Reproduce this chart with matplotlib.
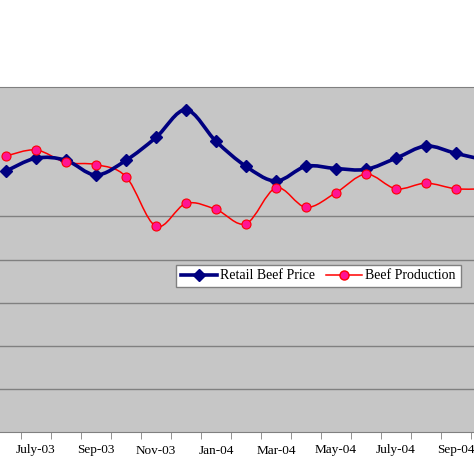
import numpy as np
import matplotlib.pyplot as plt
from matplotlib.path import Path
from matplotlib.patches import PathPatch

months = ["Jun-03", "July-03", "Aug-03", "Sep-03", "Oct-03", "Nov-03", "Dec-03", "Jan-04",
          "Feb-04", "Mar-04", "Apr-04", "May-04", "Jun-04", "July-04", "Aug-04", "Sep-04", "Oct-04"]
retail_price = [6.05, 6.35, 6.30, 5.96, 6.30, 6.83, 7.47, 6.74, 6.16, 5.82, 6.16, 6.11, 6.09,
                6.35, 6.63, 6.46, 6.30]
beef_production = [6.40, 6.54, 6.25, 6.20, 5.92, 4.77, 5.30, 5.16, 4.83, 5.66, 5.21, 5.55, 5.98,
                   5.64, 5.77, 5.64, 5.64]


def smooth_path(x, y, t=1/6):
    # catmull-rom style bezier through the points, like Excel's smoothed line
    p = np.column_stack([x, y])
    verts = [p[0]]
    codes = [Path.MOVETO]
    for i in range(len(p) - 1):
        p0 = p[i - 1] if i > 0 else p[i]
        p3 = p[i + 2] if i + 2 < len(p) else p[i + 1]
        c1 = p[i] + (p[i + 1] - p0) * t
        c2 = p[i + 1] - (p3 - p[i]) * t
        verts += [c1, c2, p[i + 1]]
        codes += [Path.CURVE4] * 3
    return Path(verts, codes)


fig = plt.figure(figsize=(4.74, 4.74), dpi=100)
ax = fig.add_axes([0, 42 / 474, 1, 345 / 474])
ax.set_facecolor("#c6c6c6")
x = np.arange(len(months))

ax.add_patch(PathPatch(smooth_path(x, retail_price), fill=False, ec="#000080", lw=2.6, zorder=3))
ax.add_patch(PathPatch(smooth_path(x, beef_production), fill=False, ec="#ff0000", lw=1.1, zorder=2))
ax.plot(x, retail_price, ls="none", marker="D", ms=6.5, color="#000080", zorder=4)
ax.plot(x, beef_production, ls="none", marker="o", ms=6.5, mfc="#ff1493", mec="#ff0000", mew=0.8, zorder=4)

# legend proxies
ax.plot([], [], color="#000080", lw=2.6, marker="D", ms=6, label="Retail Beef Price")
ax.plot([], [], color="#ff0000", lw=1.1, marker="o", ms=6.5, mfc="#ff1493", label="Beef Production")

ax.set_xlim(-0.2, 15.6)
ax.set_ylim(0, 8)
for yv in [1, 2, 3, 4, 5]:
    ax.axhline(yv, color="#808080", lw=1, zorder=1)
ax.set_yticks([])
ax.set_xticks(x[1::2])
ax.set_xticklabels(months[1::2], family="Liberation Serif", fontsize=9.5)
ax.set_xticks(x[:-1] + 0.5, minor=True)
ax.tick_params(axis="x", which="major", length=0, pad=9)
ax.tick_params(axis="x", which="minor", length=5, color="#808080", direction="out")
for s in ["left", "right"]:
    ax.spines[s].set_visible(False)
ax.spines["top"].set_color("#808080")
ax.spines["bottom"].set_color("#808080")

fig.legend(loc="center", bbox_to_anchor=(0.672, 0.418), ncol=2, fancybox=False,
           edgecolor="#808080", framealpha=1, prop={"family": "Liberation Serif", "size": 10},
           handlelength=2.6, handletextpad=0.2, columnspacing=0.8, borderpad=0.35)

fig.savefig("out.png", dpi=100)
